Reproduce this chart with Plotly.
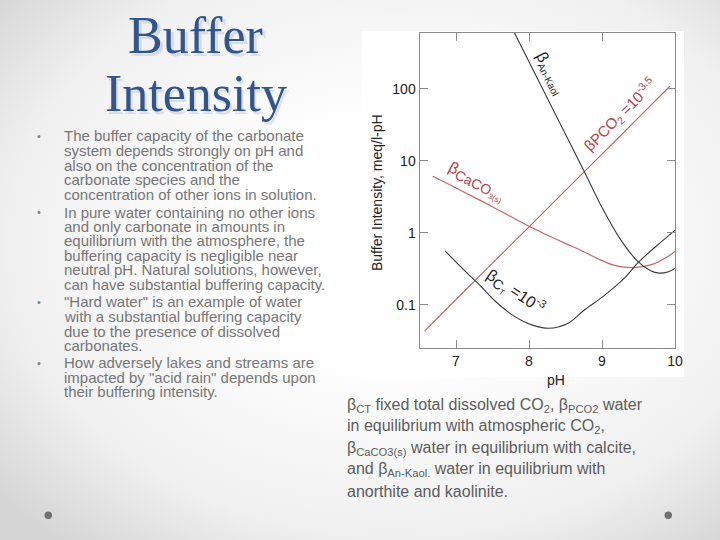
import base64
import plotly.graph_objects as go

# ---------------- data ----------------
ph_ct = [6.85, 7.10, 7.33, 7.55, 7.78, 7.92, 8.05, 8.18, 8.27, 8.40, 8.55, 8.75, 9.03, 9.30, 9.50, 9.75, 10.0]
b_ct = [0.56, 0.31, 0.185, 0.109, 0.071, 0.059, 0.052, 0.048, 0.047, 0.049, 0.056, 0.083, 0.134, 0.23, 0.39, 0.66, 1.08]

ph_pco2 = [6.57, 7.0, 7.5, 8.0, 8.5, 9.0, 9.5, 9.93]
b_pco2 = [0.043, 0.118, 0.378, 1.21, 3.88, 12.4, 39.9, 109]

ph_caco3 = [6.68, 7.0, 7.5, 8.0, 8.21, 8.48, 8.75, 8.98, 9.16, 9.34, 9.53, 9.71, 9.89, 10.0]
b_caco3 = [6.1, 4.2, 2.3, 1.23, 0.97, 0.725, 0.545, 0.42, 0.355, 0.33, 0.335, 0.37, 0.46, 0.55]

ph_ankaol = [7.75, 8.0, 8.25, 8.5, 8.75, 9.0, 9.25, 9.5, 9.66, 9.78, 9.9, 10.0]
b_ankaol = [762, 239, 74.8, 23.4, 7.36, 2.25, 0.817, 0.39, 0.30, 0.275, 0.285, 0.32]

x_ticks = [7, 8, 9, 10]
y_ticks = [0.1, 1, 10, 100]
y_tick_labels = ["0.1", "1", "10", "100"]

title_lines = ["Buffer", "Intensity"]
bullet_lines = [
    ["The buffer capacity of the carbonate",
     "system depends strongly on pH and",
     "also on the concentration of the",
     "carbonate species and the",
     "concentration of other ions in solution."],
    ["In pure water containing no other ions",
     "and only carbonate in amounts in",
     "equilibrium with the atmosphere, the",
     "buffering capacity is negligible near",
     "neutral pH. Natural solutions, however,",
     "can have substantial buffering capacity."],
    ["\"Hard water\" is an example of water",
     "with a substantial buffering capacity",
     "due to the presence of dissolved",
     "carbonates."],
    ["How adversely lakes and streams are",
     "impacted by \"acid rain\" depends upon",
     "their buffering intensity."],
]
caption_lines = [
    "β<sub>CT</sub> fixed total dissolved CO<sub>2</sub>, β<sub>PCO2</sub> water",
    "in equilibrium with atmospheric CO<sub>2</sub>,",
    "β<sub>CaCO3(s)</sub> water in equilibrium with calcite,",
    "and β<sub>An-Kaol.</sub> water in equilibrium with",
    "anorthite and kaolinite.",
]

# ---------------- layout helpers ----------------
REF_W, REF_H = 720, 540
FIG_W, FIG_H = 728, 540


def px(x):
    return x / REF_W


def py(y):
    return 1 - y / REF_H


RED = "#c46664"
RED_TXT = "#b5424a"
DARK = "#3a3a3a"
FONT = "Liberation Sans"

fig = go.Figure()

fig.add_trace(go.Scatter(x=ph_pco2, y=b_pco2, mode="lines",
                         line=dict(color=RED, width=1.2, shape="spline"), hoverinfo="skip"))
fig.add_trace(go.Scatter(x=ph_caco3, y=b_caco3, mode="lines",
                         line=dict(color=RED, width=1.2, shape="spline"), hoverinfo="skip"))
fig.add_trace(go.Scatter(x=ph_ankaol, y=b_ankaol, mode="lines",
                         line=dict(color=DARK, width=1.1, shape="spline"), hoverinfo="skip"))
fig.add_trace(go.Scatter(x=ph_ct, y=b_ct, mode="lines",
                         line=dict(color=DARK, width=1.1, shape="spline"), hoverinfo="skip"))

# background gradient (slide)
svg = ('<svg xmlns="http://www.w3.org/2000/svg" width="720" height="540">'
       '<defs><radialGradient id="g" cx="0.55" cy="0.45" r="0.72">'
       '<stop offset="0.3" stop-color="#ffffff"/><stop offset="0.75" stop-color="#f0f0f0"/>'
       '<stop offset="1" stop-color="#d6d6d6"/></radialGradient></defs>'
       '<rect width="720" height="540" fill="url(#g)"/></svg>')
src = "data:image/svg+xml;base64," + base64.b64encode(svg.encode()).decode()

annotations = []

# title with soft shadow
for i, t in enumerate(title_lines):
    cy = [36, 94][i]
    annotations.append(dict(xref="paper", yref="paper", x=px(198), y=py(cy + 2), text=t,
                            showarrow=False, xanchor="center", yanchor="middle",
                            font=dict(family="Liberation Serif", size=52, color="rgba(120,130,150,0.22)")))
    annotations.append(dict(xref="paper", yref="paper", x=px(196), y=py(cy), text=t,
                            showarrow=False, xanchor="center", yanchor="middle",
                            font=dict(family="Liberation Serif", size=52, color="#30558f")))

# bullets
line_y = [136, 150.7, 165, 179.3, 194, 212, 226, 240.7, 255, 269.3, 284, 301.7, 316, 331, 345.3, 362.7, 377.3, 391.7]
k = 0
for para in bullet_lines:
    for j, ln in enumerate(para):
        if j == 0:
            annotations.append(dict(xref="paper", yref="paper", x=px(39), y=py(line_y[k]), text="•",
                                    showarrow=False, xanchor="center", yanchor="middle",
                                    font=dict(family=FONT, size=11, color="#808080")))
        annotations.append(dict(xref="paper", yref="paper", x=px(62), y=py(line_y[k]), text=ln,
                                showarrow=False, xanchor="left", yanchor="middle",
                                font=dict(family=FONT, size=15, color="#767676")))
        k += 1

# caption
cap_y = [405, 426.7, 448.3, 469.3, 491]
for t, yy in zip(caption_lines, cap_y):
    annotations.append(dict(xref="paper", yref="paper", x=px(345), y=py(yy), text=t,
                            showarrow=False, xanchor="left", yanchor="middle",
                            font=dict(family=FONT, size=16, color="#5c5c5c")))

# axis titles
annotations.append(dict(xref="paper", yref="paper", x=px(377), y=py(193), text="Buffer Intensity, meq/l-pH",
                        showarrow=False, textangle=-90, xanchor="center", yanchor="middle",
                        font=dict(family=FONT, size=14, color="#222222")))
annotations.append(dict(xref="paper", yref="paper", x=px(556), y=py(380), text="pH",
                        showarrow=False, xanchor="center", yanchor="middle",
                        font=dict(family=FONT, size=14, color="#222222")))

# curve labels (data coordinates; y as log10)
annotations.append(dict(xref="x", yref="y", x=8.29, y=2.22,
                        text="β<sub><span style='font-size:10px'>An-Kaol</span></sub>",
                        showarrow=False, textangle=63, font=dict(family=FONT, size=16, color="#222222")))
annotations.append(dict(xref="x", yref="y", x=9.24, y=1.65, text="βPCO<sub>2</sub> =10<sup>-3.5</sup>",
                        showarrow=False, textangle=-45, font=dict(family=FONT, size=15, color=RED_TXT)))
annotations.append(dict(xref="x", yref="y", x=7.27, y=0.70,
                        text="β<sub><span style='font-size:14px'>CaCO</span><sub>3(s)</sub></sub>",
                        showarrow=False, textangle=27, font=dict(family=FONT, size=16, color=RED_TXT)))
annotations.append(dict(xref="x", yref="y", x=7.81, y=-0.83,
                        text="β<sub><span style='font-size:14px'>C</span><sub>T</sub></sub> =10<sup>-3</sup>",
                        showarrow=False, textangle=34, font=dict(family=FONT, size=16, color="#222222")))

shapes = [
    dict(type="rect", xref="paper", yref="paper", x0=px(362), x1=px(684), y0=py(377), y1=py(31),
         fillcolor="white", line=dict(width=0), layer="below"),
    dict(type="circle", xref="paper", yref="paper", x0=px(44.5), x1=px(52), y0=py(519), y1=py(511.5),
         fillcolor="#707070", line=dict(width=0)),
    dict(type="circle", xref="paper", yref="paper", x0=px(664.5), x1=px(672), y0=py(519), y1=py(511.5),
         fillcolor="#707070", line=dict(width=0)),
]

axis_common = dict(showgrid=False, zeroline=False, showline=True, linecolor="#8a8a8a", linewidth=1,
                   mirror="ticks", ticks="inside", ticklen=8, tickcolor="#8a8a8a", tickwidth=1,
                   tickfont=dict(family=FONT, size=14, color="#222222"))

fig.update_layout(
    width=FIG_W, height=FIG_H, autosize=False,
    margin=dict(l=0, r=0, t=0, b=0),
    paper_bgcolor="white", plot_bgcolor="rgba(0,0,0,0)",
    showlegend=False,
    xaxis=dict(domain=[px(419.5), px(675)], range=[6.5, 10], tickvals=x_ticks,
               ticktext=[str(v) for v in x_ticks], **axis_common),
    yaxis=dict(domain=[py(348), py(33)], type="log", range=[-1.602, 2.778], tickvals=y_ticks,
               ticktext=y_tick_labels, **axis_common),
    images=[dict(source=src, xref="paper", yref="paper", x=0, y=1, sizex=1, sizey=1,
                 sizing="stretch", xanchor="left", yanchor="top", layer="below")],
    annotations=annotations,
    shapes=shapes,
)

fig.write_html(
    "out.html",
    config={"displayModeBar": False, "responsive": False},
    post_script="document.documentElement.style.margin='0';document.body.style.margin='0';"
                "document.documentElement.style.overflow='hidden';document.body.style.overflow='hidden';",
)
